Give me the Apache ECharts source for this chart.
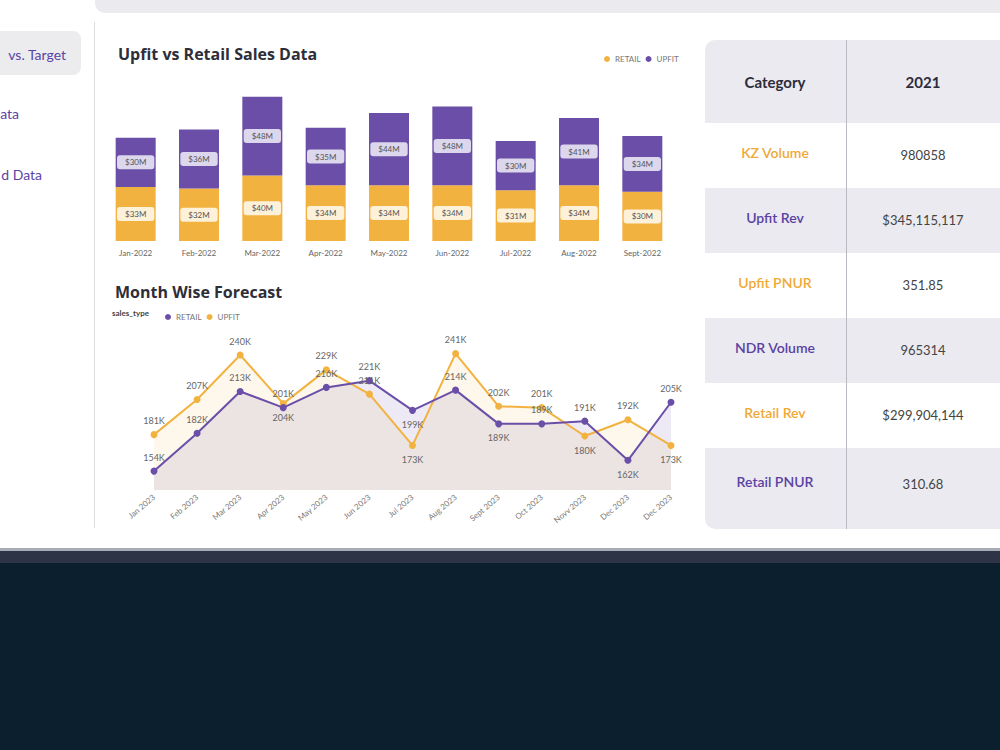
<!DOCTYPE html>
<html><head><meta charset="utf-8">
<script src="https://cdn.jsdelivr.net/npm/echarts@6/dist/echarts.min.js"></script>
<style>html,body{margin:0;padding:0;background:#fff;overflow:hidden}#c{width:1000px;height:750px}</style>
</head><body><div id="c"></div>
<script>
// ---------- data ----------
const barMonths = ['Jan-2022','Feb-2022','Mar-2022','Apr-2022','May-2022','Jun-2022','Jul-2022','Aug-2022','Sept-2022'];
const barRetail = [33,32,40,34,34,34,31,34,30];
const barUpfit  = [30,36,48,35,44,48,30,41,34];

const lineMonths = ['Jan 2023','Feb 2023','Mar 2023','Apr 2023','May 2023','Jun 2023','Jul 2023','Aug 2023','Sept 2023','Oct 2023','Novv 2023','Dec 2023','Dec 2023'];
const lineRetail = [154,182,213,201,216,221,199,214,189,189,191,162,205];
const lineUpfit  = [181,207,240,204,229,211,173,241,202,201,180,192,173];
const retailLabelPos = ['top','top','top','top','top','top','bottom','top','bottom','top','top','bottom','top'];
const upfitLabelPos  = ['top','top','top','bottom','top','top','bottom','top','top','top','bottom','top','bottom'];

const tableHeader = ['Category','2021'];
const tableCategories = ['KZ Volume','Upfit Rev','Upfit PNUR','NDR Volume','Retail Rev','Retail PNUR'];
const tableValues = ['980858','$345,115,117','351.85','965314','$299,904,144','310.68'];

const navItems = ['vs. Target','ata','d Data'];

// ---------- style ----------
const PURPLE = '#6a4ea7';
const ORANGE = '#f2b23f';
const FONT = 'Lato';
const TFONT = 'Open Sans';
const chart = echarts.init(document.getElementById('c'), null, {renderer:'svg'});

const g = [];
// bottom dark band
g.push({type:'rect', shape:{x:0,y:548,width:1000,height:3}, style:{fill:'#a7abb3'}, z:0});
g.push({type:'rect', shape:{x:0,y:551,width:1000,height:12}, style:{fill:'#2e3446'}, z:0});
g.push({type:'rect', shape:{x:0,y:563,width:1000,height:187}, style:{fill:'#0b1f2e'}, z:0});
// top strip
g.push({type:'rect', shape:{x:95,y:-20,width:930,height:33,r:10}, style:{fill:'#ebeaef'}, z:0});
// nav
g.push({type:'rect', shape:{x:-12,y:31,width:93,height:44,r:8}, style:{fill:'#ececee'}, z:0});
const navRight = [66,19,42];
const navY = [54,113,174];
navItems.forEach((t,i)=>g.push({type:'text', style:{text:t, x:navRight[i], y:navY[i], textAlign:'right', textVerticalAlign:'middle', fill:'#5b43a6', fontSize:14, fontFamily:FONT}, z:2}));
// divider
g.push({type:'rect', shape:{x:94,y:22,width:1,height:506}, style:{fill:'#dddde0'}, z:1});
// line legend prefix
g.push({type:'text', style:{text:'sales_type', x:112, y:313, textVerticalAlign:'middle', fill:'#444', fontSize:8, fontWeight:'bold', fontFamily:FONT}, z:2});

// table
const tX = 705, tW = 330, tTop = 40, headH = 83, rowH = 65, lastH = 81;
g.push({type:'rect', shape:{x:tX,y:tTop,width:tW,height:headH,r:[10,0,0,0]}, style:{fill:'#ebeaf0'}, z:1});
g.push({type:'text', style:{text:tableHeader[0], x:775, y:tTop+headH/2, textAlign:'center', textVerticalAlign:'middle', fill:'#2c2c3a', fontSize:15, fontWeight:'bold', fontFamily:FONT}, z:3});
g.push({type:'text', style:{text:tableHeader[1], x:923, y:tTop+headH/2, textAlign:'center', textVerticalAlign:'middle', fill:'#2c2c3a', fontSize:15, fontWeight:'bold', fontFamily:FONT}, z:3});
let yy = tTop+headH;
tableCategories.forEach((c,i)=>{
  const last = i===tableCategories.length-1;
  const h = last ? lastH : rowH;
  if (i%2===1) {
    g.push({type:'rect', shape:{x:tX,y:yy,width:tW,height:h,r:last?[0,0,0,10]:0}, style:{fill:'#ebeaf0'}, z:1});
  }
  const cy = yy + (last ? h/2-7 : h/2-3);
  g.push({type:'text', style:{text:c, x:775, y:cy, textAlign:'center', textVerticalAlign:'middle', fill:(i%2===0)?'#f0a935':'#5a42a3', fontSize:14, fontWeight:600, fontFamily:FONT}, z:3});
  g.push({type:'text', style:{text:tableValues[i], x:923, y:cy+2, textAlign:'center', textVerticalAlign:'middle', fill:'#444', fontSize:13, fontFamily:FONT}, z:3});
  yy += h;
});
g.push({type:'rect', shape:{x:846,y:tTop,width:1,height:yy-tTop}, style:{fill:'#b9b9c2'}, z:2});

function lineData(vals, pos){ return vals.map((v,i)=>({value:v, label:{position:pos[i]}})); }

const option = {
  backgroundColor:'#ffffff',
  animation:false,
  textStyle:{fontFamily:FONT},
  title:[
    {text:'Upfit vs Retail Sales Data', left:113, top:41, textStyle:{fontSize:16, fontWeight:'bold', color:'#2e2e38', fontFamily:TFONT}},
    {text:'Month Wise Forecast', left:110, top:279, textStyle:{fontSize:16, fontWeight:'bold', color:'#2e2e38', fontFamily:TFONT}}
  ],
  legend:[
    {left:599, top:50, icon:'circle', itemWidth:6, itemHeight:6, itemGap:5,
     textStyle:{fontSize:8, color:'#777', fontFamily:FONT},
     data:[{name:'RETAIL', itemStyle:{color:ORANGE}},{name:'UPFIT', itemStyle:{color:PURPLE}}]},
    {left:160, top:308, icon:'circle', itemWidth:6, itemHeight:6, itemGap:5,
     textStyle:{fontSize:8, color:'#777', fontFamily:FONT},
     data:[{name:'RETAIL', itemStyle:{color:PURPLE}},{name:'UPFIT', itemStyle:{color:ORANGE}}]}
  ],
  grid:[
    {left:104, right:326, top:77, bottom:509},
    {left:154, right:329, top:328, bottom:260}
  ],
  xAxis:[
    {type:'category', gridIndex:0, data:barMonths, axisLine:{show:false}, axisTick:{show:false},
     axisLabel:{fontSize:8, color:'#666', margin:8, fontFamily:FONT}},
    {type:'category', gridIndex:1, data:lineMonths, boundaryGap:false, axisLine:{show:false}, axisTick:{show:false},
     axisLabel:{fontSize:8, color:'#777', rotate:40, margin:6, interval:0, fontFamily:FONT}}
  ],
  yAxis:[
    {type:'value', gridIndex:0, min:0, max:100, show:false},
    {type:'value', gridIndex:1, min:140, max:260, show:false}
  ],
  series:[
    {name:'RETAIL', type:'bar', stack:'s', xAxisIndex:0, yAxisIndex:0, data:barRetail, barWidth:40,
     itemStyle:{color:ORANGE},
     label:{show:true, position:'inside', formatter:p=>'$'+p.value+'M', fontSize:8, color:'#555',
            backgroundColor:'#fdf1d9', borderRadius:3, padding:[3,8], fontFamily:FONT}},
    {name:'UPFIT', type:'bar', stack:'s', xAxisIndex:0, yAxisIndex:0, data:barUpfit, barWidth:40,
     itemStyle:{color:PURPLE},
     label:{show:true, position:'inside', formatter:p=>'$'+p.value+'M', fontSize:8, color:'#555',
            backgroundColor:'#dcd7ec', borderRadius:3, padding:[3,8], fontFamily:FONT}},
    {name:'UPFIT', type:'line', xAxisIndex:1, yAxisIndex:1, data:lineData(lineUpfit, upfitLabelPos),
     symbol:'circle', symbolSize:7, lineStyle:{color:ORANGE, width:2}, itemStyle:{color:ORANGE},
     areaStyle:{color:'rgba(242,178,63,0.15)', origin:'start'},
     label:{show:true, formatter:p=>p.value+'K', fontSize:9, color:'#666', distance:6, fontFamily:FONT}},
    {name:'RETAIL', type:'line', xAxisIndex:1, yAxisIndex:1, data:lineData(lineRetail, retailLabelPos),
     symbol:'circle', symbolSize:7, lineStyle:{color:PURPLE, width:2}, itemStyle:{color:PURPLE},
     areaStyle:{color:'rgba(106,78,167,0.17)', origin:'start'},
     label:{show:true, formatter:p=>p.value+'K', fontSize:9, color:'#666', distance:6, fontFamily:FONT}}
  ],
  graphic:g
};
chart.setOption(option);
</script>
</body></html>
